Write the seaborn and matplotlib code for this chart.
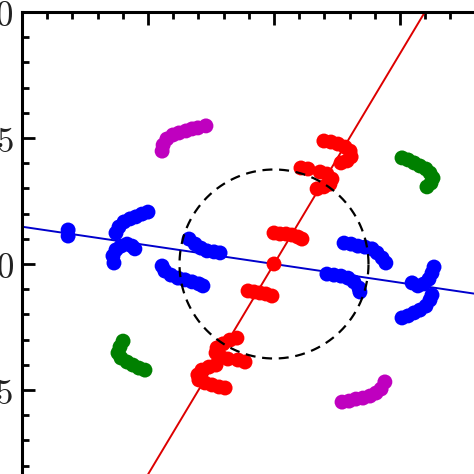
import numpy as np
import pandas as pd
import matplotlib
matplotlib.use("Agg")
import matplotlib.pyplot as plt
import seaborn as sns

# -------- points (data units) --------
blue_x = [-8.17, -8.17,
          -6.27, -6.15, -5.95, -5.71, -5.48, -5.24, -5.00,
          -6.35, -6.39, -6.27, -6.07, -5.83, -5.63, -5.52,
          -3.37, -3.13, -2.90, -2.66, -2.38, -2.14,
          -4.44, -4.33, -4.09, -3.81, -3.53, -3.25, -2.98, -2.82,
          2.78, 3.06, 3.33, 3.61, 3.89, 4.09, 4.29, 4.44,
          2.10, 2.38, 2.66, 2.94, 3.17, 3.37, 3.41,
          5.48, 5.71, 5.95, 6.15, 6.27, 6.35,
          5.08, 5.32, 5.56, 5.79, 6.03, 6.19, 6.27]
blue_y = [1.35, 1.11,
          1.23, 1.47, 1.67, 1.79, 1.87, 1.98, 2.06,
          0.04, 0.32, 0.56, 0.71, 0.79, 0.71, 0.60,
          0.99, 0.79, 0.63, 0.52, 0.48, 0.44,
          -0.08, -0.28, -0.44, -0.56, -0.63, -0.71, -0.79, -0.87,
          0.83, 0.79, 0.71, 0.67, 0.60, 0.44, 0.24, 0.04,
          -0.40, -0.44, -0.48, -0.56, -0.71, -0.95, -1.11,
          -0.75, -0.87, -0.79, -0.60, -0.36, -0.12,
          -2.14, -2.06, -1.94, -1.83, -1.67, -1.43, -1.23]

red_x = [1.98, 2.26, 2.54, 2.82, 3.02, 3.06, 2.90, 2.66,
         1.07, 1.35,
         1.83, 2.10, 2.30, 2.22, 1.98, 1.71,
         0.00, 0.24, 0.48, 0.71, 0.95, 1.11,
         0.00,
         -1.03, -0.79, -0.56, -0.32, -0.08,
         -1.47, -1.75, -2.02, -2.26, -2.30, -2.10, -1.83,
         -1.43, -1.15,
         -2.30, -2.58, -2.86, -3.02, -2.98, -2.74, -2.46, -2.18, -1.94]
red_y = [4.88, 4.84, 4.76, 4.64, 4.48, 4.25, 4.09, 4.01,
         3.81, 3.77,
         3.65, 3.57, 3.37, 3.17, 3.06, 2.98,
         1.23, 1.19, 1.19, 1.15, 1.07, 0.99,
         0.00,
         -1.07, -1.11, -1.15, -1.19, -1.27,
         -2.94, -3.02, -3.17, -3.33, -3.53, -3.69, -3.77,
         -3.81, -3.89,
         -4.01, -4.09, -4.21, -4.40, -4.60, -4.72, -4.80, -4.88, -4.92]

green_x = [5.08, 5.32, 5.56, 5.79, 6.03, 6.19, 6.31, 6.23, 6.07,
           -5.99, -6.11, -6.19, -6.07, -5.83, -5.60, -5.36, -5.12]
green_y = [4.21, 4.13, 4.01, 3.89, 3.77, 3.61, 3.41, 3.21, 3.06,
           -3.06, -3.29, -3.53, -3.73, -3.89, -4.01, -4.13, -4.21]

magenta_x = [-4.44, -4.40, -4.25, -4.01, -3.77, -3.49, -3.25, -3.02, -2.70,
             2.70, 2.98, 3.25, 3.53, 3.81, 4.05, 4.25, 4.40]
magenta_y = [4.48, 4.72, 4.96, 5.12, 5.20, 5.28, 5.36, 5.40, 5.48,
             -5.48, -5.44, -5.36, -5.32, -5.24, -5.12, -4.96, -4.68]

# fitted axes through the origin
blue_slope = -0.148
red_slope = 1.67
circle_radius = 3.75

major_ticks = [-10, -5, 0, 5, 10]
major_labels = ["$-10$", "$-5$", "$0$", "$5$", "$10$"]

COLORS = {"blue": "#0000ff", "red": "#ff0000", "green": "#008000", "magenta": "#bf00bf"}


def build_frame():
    parts = []
    for name, xs, ys in [("blue", blue_x, blue_y), ("red", red_x, red_y),
                         ("green", green_x, green_y), ("magenta", magenta_x, magenta_y)]:
        parts.append(pd.DataFrame({"x": xs, "y": ys, "group": name}))
    return pd.concat(parts, ignore_index=True)


sns.set_style("ticks")
plt.rcParams["mathtext.fontset"] = "cm"

fig = plt.figure(figsize=(4.74, 4.74), dpi=100)
# the original is a crop of a larger figure: axes run past the right/bottom edges
ax = fig.add_axes([22 / 474, (474 - 516) / 474, 504 / 474, 504 / 474])

xx = np.array([-10, 10])
ax.plot(xx, blue_slope * xx, color="#0000cc", lw=1.4, zorder=1)
ax.plot(xx, red_slope * xx, color="#dd0000", lw=1.4, zorder=1)

df = build_frame()
sns.scatterplot(data=df, x="x", y="y", hue="group", palette=COLORS, s=115,
                edgecolor="none", legend=False, ax=ax, zorder=2)

th = np.linspace(0, 2 * np.pi, 400)
ax.plot(circle_radius * np.cos(th), circle_radius * np.sin(th), color="black",
        lw=1.6, ls=(0, (4.5, 3)), zorder=3)

ax.set_xlim(-10, 10)
ax.set_ylim(-10, 10)
ax.set_aspect("equal")
ax.set_xticks(major_ticks)
ax.set_yticks(major_ticks)
ax.set_yticklabels(major_labels)
ax.set_xticks(np.arange(-10, 11, 1), minor=True)
ax.set_yticks(np.arange(-10, 11, 1), minor=True)
ax.tick_params(which="both", direction="in", top=True, right=True, width=2, color="black")
ax.tick_params(which="major", length=9, labelsize=25, pad=6, labelcolor="#222222")
ax.tick_params(which="minor", length=5)
# x tick labels sit below the crop of the original
ax.tick_params(axis="x", labelbottom=False)
for sp in ax.spines.values():
    sp.set_linewidth(2.2)
    sp.set_color("black")
ax.set_xlabel("")
ax.set_ylabel("")

fig.savefig("out.png", dpi=100)
